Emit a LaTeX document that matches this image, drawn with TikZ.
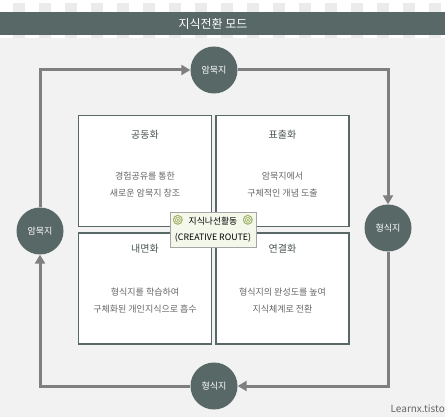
\documentclass[tikz,border=0pt]{standalone}
\usepackage{fontspec}
\setmainfont{Noto Sans CJK KR}
\usetikzlibrary{arrows.meta,positioning}

\definecolor{slate}{HTML}{586866}
\definecolor{flowgray}{HTML}{7F7F7F}
\definecolor{bggray}{HTML}{F2F2F2}
\definecolor{checker}{HTML}{EBEBEB}
\definecolor{bodytext}{HTML}{666666}
\definecolor{titletext}{HTML}{4A5553}
\definecolor{routefill}{HTML}{F4F8EA}
\definecolor{spiralgreen}{HTML}{A3B46A}

\begin{document}
\begin{tikzpicture}[x=1pt,y=-1pt,>={Triangle[length=9pt,width=10pt]}]
  \tikzstyle{know}=[circle,fill=slate,minimum size=47pt,inner sep=0pt,
                    text=white,font=\fontsize{9}{11}\selectfont]
  \tikzstyle{mode}=[draw=slate,line width=1.6pt,fill=white,
                    minimum width=133pt,minimum height=111pt,inner sep=0pt]
  \tikzstyle{flow}=[->,draw=flowgray,line width=3pt]
  \tikzstyle{modetitle}=[text=titletext,font=\fontsize{10}{12}\selectfont]
  \tikzstyle{modebody}=[text=bodytext,align=center,
                        font=\fontsize{9}{17}\selectfont]

  % background and title bar
  \useasboundingbox (0,0) rectangle (445,417);
  \fill[white] (0,0) rectangle (445,417);
  \fill[bggray] (0,38) rectangle (445,417);
  \foreach \x in {13,39,...,445}
    {\fill[checker] (\x,3) rectangle ++(12,9);
     \fill[checker] (\x,35) rectangle ++(12,3);}
  \fill[slate] (0,12) rectangle (445,35);
  \node[text=white,font=\fontsize{12}{14}\selectfont] (title) at (213,24) {지식전환 모드};

  % knowledge nodes
  \node[know] (tacitT) at (214,70)  {암묵지};
  \node[know] (tacitL) at (40,231)  {암묵지};
  \node[know] (explR)  at (388,228) {형식지};
  \node[know] (explB)  at (214,386) {형식지};

  \draw[flow] (tacitL) |- (tacitT);
  \draw[flow] (tacitT) -| (explR);
  \draw[flow] (explR) |- (explB);
  \draw[flow] (explB) -| (tacitL);

  % the four modes
  \node[mode] (social)  at (145,171)   {};
  \node[mode] (extern)  at (282.5,171) {};
  \node[mode] (intern)  at (145,288.5) {};
  \node[mode] (combin)  at (282.5,288.5) {};

  \node[modetitle] at ([yshift=-20pt]social.north) {공동화};
  \node[modebody]  at ([yshift=-14pt]social.center) {경험공유를 통한\\새로운 암묵지 창조};
  \node[modetitle] at ([yshift=-20pt]extern.north) {표출화};
  \node[modebody]  at ([yshift=-14pt]extern.center) {암묵지에서\\구체적인 개념 도출};
  \node[modetitle] at ([yshift=-17pt]intern.north) {내면화};
  \node[modebody]  at ([yshift=-12pt]intern.center) {형식지를 학습하여\\구체화된 개인지식으로 흡수};
  \node[modetitle] at ([yshift=-17pt]combin.north) {연결화};
  \node[modebody]  at ([yshift=-12pt]combin.center) {형식지의 완성도를 높여\\지식체계로 전환};

  % creative route label
  \node[draw=flowgray!70,fill=routefill,minimum width=86pt,minimum height=35pt,
        inner sep=0pt,align=center,font=\fontsize{8.8}{16}\selectfont]
        (route) at (213,229.5) {지식나선활동\\(CREATIVE ROUTE)};
  \foreach \sx in {8,78}
    {\fill[spiralgreen] ([xshift=\sx pt,yshift=-8pt]route.north west) circle (5pt);
     \draw[white,line width=0.5pt] ([xshift=\sx pt,yshift=-8pt]route.north west) circle (3.4pt)
                                   ([xshift=\sx pt,yshift=-8pt]route.north west) circle (1.8pt);}

  \node[anchor=east,text=bodytext,font=\fontsize{10}{12}\selectfont,inner sep=0pt]
        (site) at (445,409) {Learnx.tisto};
\end{tikzpicture}
\end{document}
